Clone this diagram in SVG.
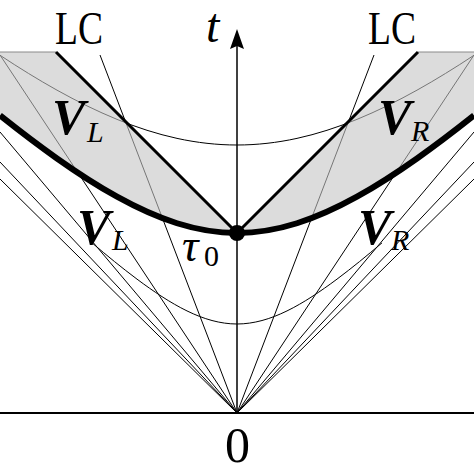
<svg xmlns="http://www.w3.org/2000/svg" width="474" height="474" viewBox="0 0 474 474">
<style>
.thin{fill:none;stroke:#000;stroke-width:1}
.lbl{font-family:"Liberation Serif","DejaVu Serif",serif;fill:#000}
.it{font-style:italic}
.bi{font-style:italic;font-weight:bold}
</style>
<rect width="474" height="474" fill="#fff"/>
<g id="rays" class="thin">
<path d="M237,413 L100,55 M237,413 L374,55"/>
<path d="M237,413 L0,55 M237,413 L474,55"/>
<path d="M237,413 L0,132 M237,413 L474,132"/>
<path d="M237,413 L0,162 M237,413 L474,162"/>
<path d="M237,413 L0,179 M237,413 L474,179"/>
</g>
<g id="hyperbolas" class="thin">
<path d="M0,55.24 C19,67.83 38,79.57 57,90.16 C77,101.31 97,111.19 117,119.36 C137,127.53 157,134.0 177,138.37 C197,142.74 217,145 237,145 C257,145 277,142.74 297,138.37 C317,134.0 337,127.53 357,119.36 C377,111.19 397,101.31 417,90.16 C436,79.57 455,67.83 474,55.24"/>
<path d="M92,242.86 C107,255.64 122,267.92 137,279.13 C153.67,291.58 170.33,302.76 187,310.92 C203.67,319.08 220.33,324 237,324 C253.67,324 270.33,319.08 287,310.92 C303.67,302.76 320.33,291.58 337,279.13 C352,267.92 367,255.64 382,242.86"/>
</g>
<g id="regions" fill="#c4c4c4" fill-opacity="0.6" stroke="none">
<path d="M0,52 L56,52 L237,233 C217,233 197,229.58 177,223.26 C157,216.94 137,207.76 117,196.67 C97,185.58 77,172.58 57,158.44 C38,145.01 19,130.52 0,115.39 Z"/>
<path d="M474,52 L418,52 L237,233 C257,233 277,229.58 297,223.26 C317,216.94 337,207.76 357,196.67 C377,185.58 397,172.58 417,158.44 C436,145.01 455,130.52 474,115.39 Z"/>
</g>
<path d="M0,52 L56,52 M418,52 L474,52" stroke="#8a8a8a" stroke-width="1" fill="none"/>
<g id="axes">
<line x1="0" y1="413" x2="474" y2="413" stroke="#000" stroke-width="2"/>
<line x1="237" y1="413" x2="237" y2="42" stroke="#000" stroke-width="1.5"/>
<path d="M237,29 L244,49 L237,46 L230,49 Z" fill="#000"/>
</g>
<g id="lightcone">
<path d="M56,52 L237,233 L418,52" fill="none" stroke="#000" stroke-width="3"/>
</g>
<g id="tau0-surface">
<path d="M0,115.39 C19,130.52 38,145.01 57,158.44 C77,172.58 97,185.58 117,196.67 C137,207.76 157,216.94 177,223.26 C197,229.58 217,233 237,233 C257,233 277,229.58 297,223.26 C317,216.94 337,207.76 357,196.67 C377,185.58 397,172.58 417,158.44 C436,145.01 455,130.52 474,115.39" fill="none" stroke="#000" stroke-width="6"/>
<circle cx="237" cy="233" r="8" fill="#000"/>
</g>
<g id="labels">
<text class="lbl" x="55" y="44" font-size="46" textLength="48" lengthAdjust="spacingAndGlyphs">LC</text>
<text class="lbl" x="368" y="44" font-size="46" textLength="48" lengthAdjust="spacingAndGlyphs">LC</text>
<text class="lbl it" x="206" y="42" font-size="48">t</text>
<text class="lbl bi" x="52" y="134" font-size="50">V</text>
<text class="lbl it" x="87" y="142" font-size="30">L</text>
<text class="lbl bi" x="77" y="244" font-size="50">V</text>
<text class="lbl it" x="112" y="250" font-size="30">L</text>
<text class="lbl bi" x="378" y="134" font-size="50">V</text>
<text class="lbl it" x="411" y="141" font-size="30">R</text>
<text class="lbl bi" x="358" y="244" font-size="50">V</text>
<text class="lbl it" x="391" y="250" font-size="30">R</text>
<text class="lbl it" x="182" y="261" font-size="46">τ</text>
<text class="lbl" x="204" y="266" font-size="30">0</text>
<text class="lbl" x="237.5" y="462" font-size="50" text-anchor="middle">0</text>
</g>
</svg>
